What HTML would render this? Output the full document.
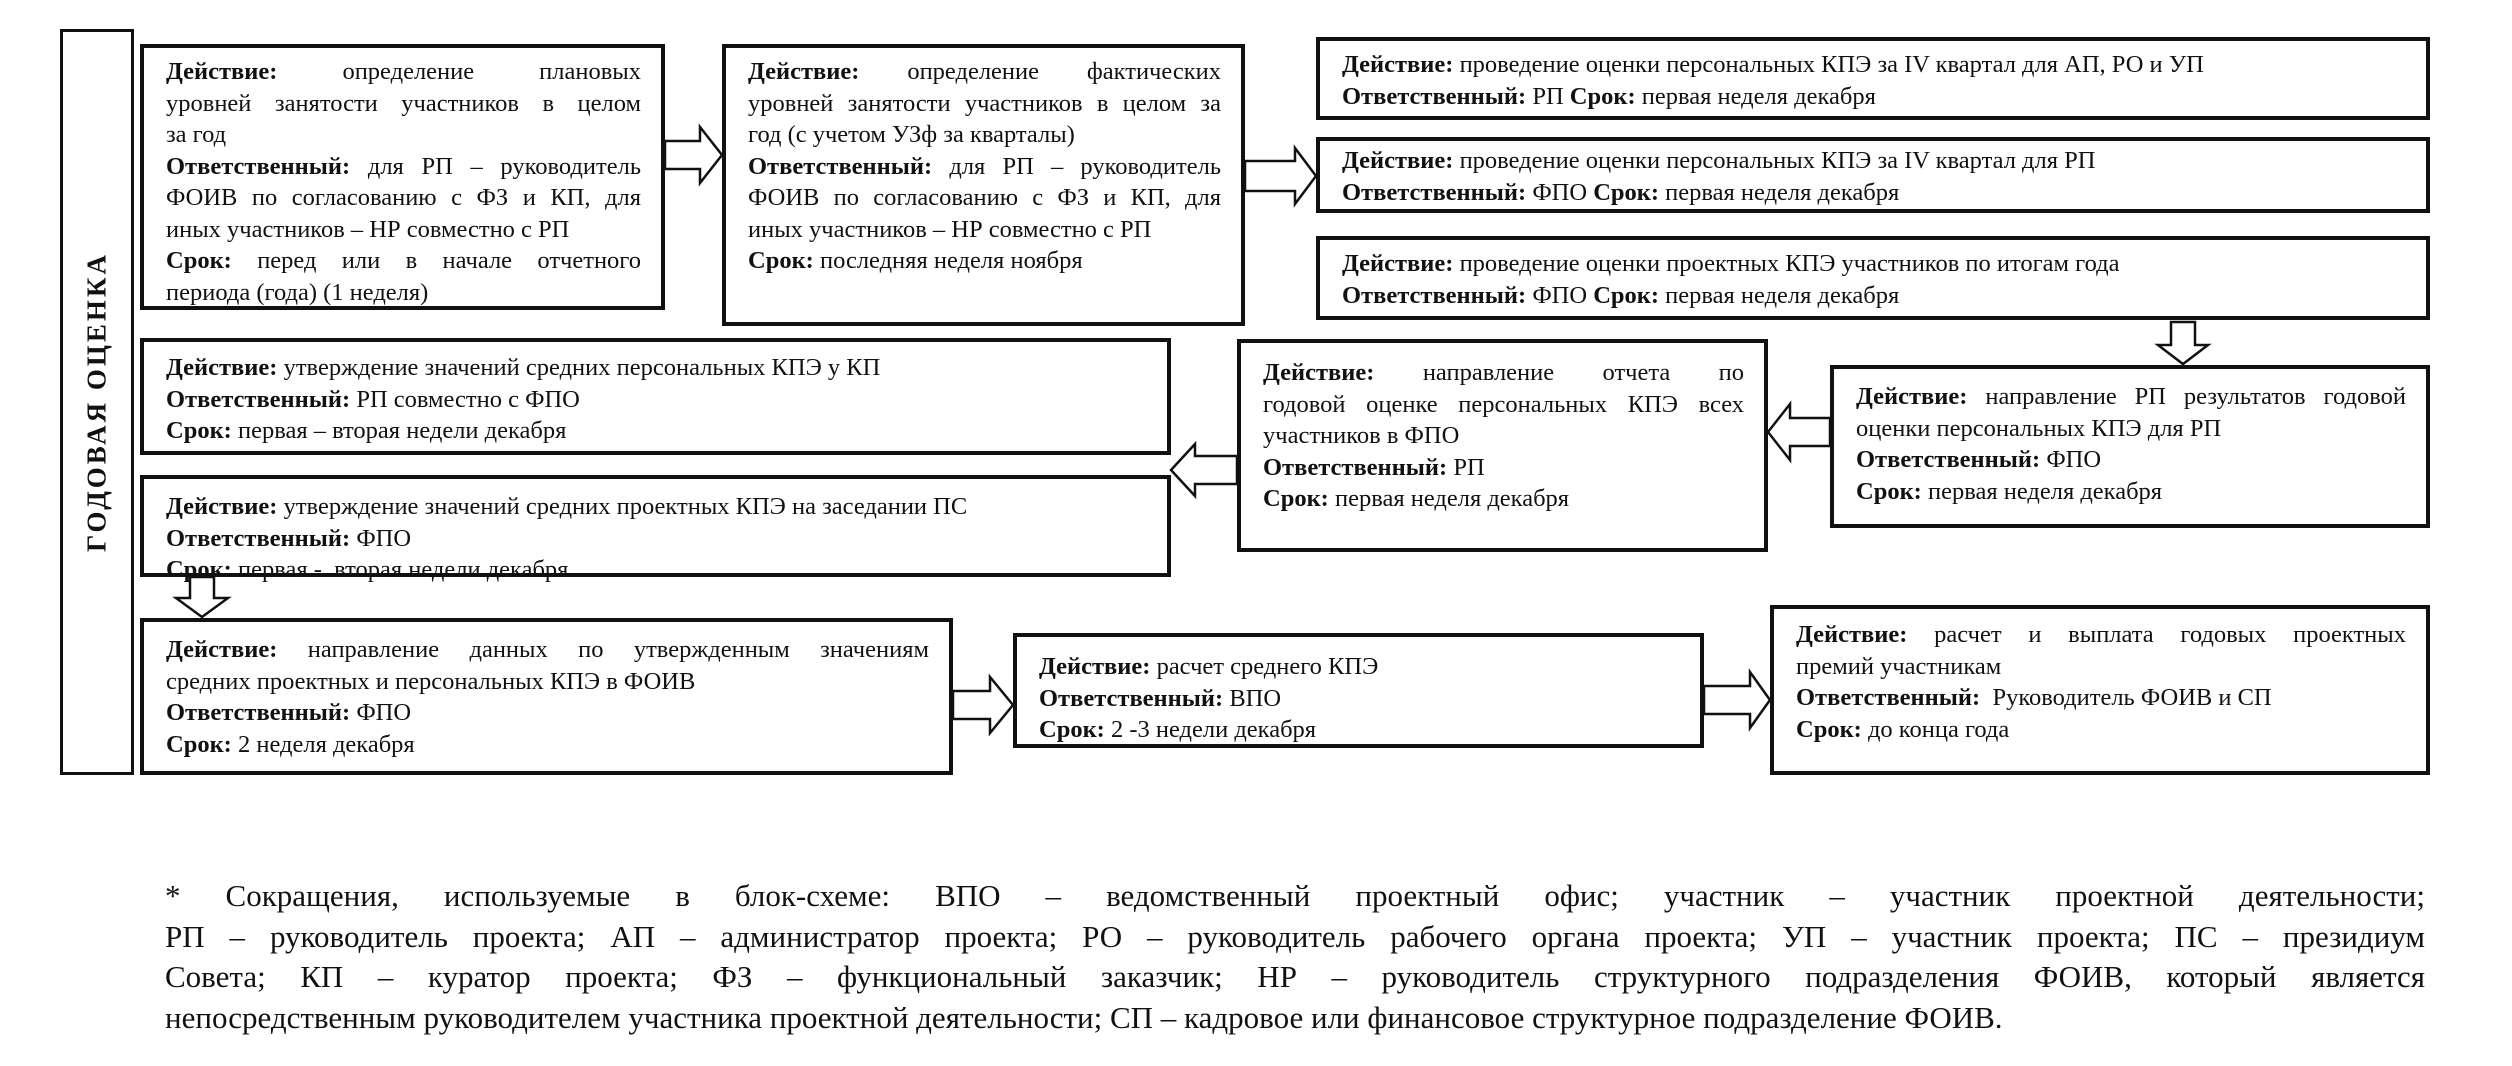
<!DOCTYPE html>
<html><head><meta charset="utf-8">
<style>
*{margin:0;padding:0;box-sizing:border-box}
body{width:2512px;height:1066px;background:#fff;position:relative;overflow:hidden;font-family:"Liberation Serif","Noto Serif CJK SC",serif;color:#111}
.b{position:absolute;border:4px solid #111;font-size:24.5px;line-height:31.5px;padding:8px 20px 0 22px}
.b b{font-weight:bold}
.j div{text-align:justify;text-align-last:justify;white-space:nowrap}
.j div.n{text-align-last:left}
.side{position:absolute;left:60px;top:29px;width:74px;height:746px;border:3px solid #111}
.side span{position:absolute;left:50%;top:50%;transform:translate(-50%,-50%) rotate(-90deg);font-weight:bold;font-size:27px;letter-spacing:3px;white-space:nowrap;font-family:"Liberation Serif",serif}
.fn{position:absolute;left:165px;top:876px;width:2260px;font-size:31px;line-height:40.5px}
.fn div{text-align:justify;text-align-last:justify;white-space:nowrap}
.fn div.n{text-align-last:left}
svg{position:absolute;left:0;top:0}
</style></head><body>
<div class="side"><span>ГОДОВАЯ ОЦЕНКА</span></div>

<div class="b j" style="left:140px;top:44px;width:525px;height:266px">
<div><b>Действие:</b> определение плановых</div>
<div>уровней занятости участников в целом</div>
<div class="n">за год</div>
<div><b>Ответственный:</b> для РП – руководитель</div>
<div>ФОИВ по согласованию с ФЗ и КП, для</div>
<div class="n">иных участников – НР совместно с РП</div>
<div><b>Срок:</b> перед или в начале отчетного</div>
<div class="n">периода (года) (1 неделя)</div>
</div>

<div class="b j" style="left:722px;top:44px;width:523px;height:282px">
<div><b>Действие:</b> определение фактических</div>
<div>уровней занятости участников в целом за</div>
<div class="n">год (с учетом УЗф за кварталы)</div>
<div><b>Ответственный:</b> для РП – руководитель</div>
<div>ФОИВ по согласованию с ФЗ и КП, для</div>
<div class="n">иных участников – НР совместно с РП</div>
<div class="n"><b>Срок:</b> последняя неделя ноября</div>
</div>

<div class="b" style="left:1316px;top:37px;width:1114px;height:83px;padding-top:8px">
<div><b>Действие:</b> проведение оценки персональных КПЭ за IV квартал для АП, РО и УП</div>
<div><b>Ответственный:</b> РП <b>Срок:</b> первая неделя декабря</div>
</div>
<div class="b" style="left:1316px;top:137px;width:1114px;height:76px;padding-top:4px">
<div><b>Действие:</b> проведение оценки персональных КПЭ за IV квартал для РП</div>
<div><b>Ответственный:</b> ФПО <b>Срок:</b> первая неделя декабря</div>
</div>
<div class="b" style="left:1316px;top:236px;width:1114px;height:84px;padding-top:8px">
<div><b>Действие:</b> проведение оценки проектных КПЭ участников по итогам года</div>
<div><b>Ответственный:</b> ФПО <b>Срок:</b> первая неделя декабря</div>
</div>

<div class="b j" style="left:1830px;top:365px;width:600px;height:163px;padding-top:12px">
<div><b>Действие:</b> направление РП результатов годовой</div>
<div class="n">оценки персональных КПЭ для РП</div>
<div class="n"><b>Ответственный:</b> ФПО</div>
<div class="n"><b>Срок:</b> первая неделя декабря</div>
</div>

<div class="b j" style="left:1237px;top:339px;width:531px;height:213px;padding-top:14px">
<div><b>Действие:</b> направление отчета по</div>
<div>годовой оценке персональных КПЭ всех</div>
<div class="n">участников в ФПО</div>
<div class="n"><b>Ответственный:</b> РП</div>
<div class="n"><b>Срок:</b> первая неделя декабря</div>
</div>

<div class="b" style="left:140px;top:338px;width:1031px;height:117px;padding-top:10px">
<div><b>Действие:</b> утверждение значений средних персональных КПЭ у КП</div>
<div><b>Ответственный:</b> РП совместно с ФПО</div>
<div><b>Срок:</b> первая – вторая недели декабря</div>
</div>
<div class="b" style="left:140px;top:475px;width:1031px;height:102px;padding-top:12px">
<div><b>Действие:</b> утверждение значений средних проектных КПЭ на заседании ПС</div>
<div><b>Ответственный:</b> ФПО</div>
<div><b>Срок:</b> первая -&nbsp; вторая недели декабря</div>
</div>

<div class="b j" style="left:140px;top:618px;width:813px;height:157px;padding-top:12px">
<div><b>Действие:</b> направление данных по утвержденным значениям</div>
<div class="n">средних проектных и персональных КПЭ в ФОИВ</div>
<div class="n"><b>Ответственный:</b> ФПО</div>
<div class="n"><b>Срок:</b> 2 неделя декабря</div>
</div>

<div class="b" style="left:1013px;top:633px;width:691px;height:115px;padding-top:14px">
<div><b>Действие:</b> расчет среднего КПЭ</div>
<div><b>Ответственный:</b> ВПО</div>
<div><b>Срок:</b> 2 -3 недели декабря</div>
</div>

<div class="b j" style="left:1770px;top:605px;width:660px;height:170px;padding-top:10px">
<div><b>Действие:</b> расчет и выплата годовых проектных</div>
<div class="n">премий участникам</div>
<div class="n"><b>Ответственный:</b>&nbsp; Руководитель ФОИВ и СП</div>
<div class="n"><b>Срок:</b> до конца года</div>
</div>

<svg width="2512" height="1066" fill="#fff" stroke="#111" stroke-width="2.5">
<polygon points="665,141 700,141 700,127 722,155 700,183 700,169 665,169"/>
<polygon points="1245,161 1295,161 1295,148 1316,176 1295,204 1295,191 1245,191"/>
<polygon points="2171,322 2195,322 2195,345 2208,345 2183,364 2158,345 2171,345"/>
<polygon points="1830,418 1790,418 1790,404 1768,432 1790,460 1790,446 1830,446"/>
<polygon points="1237,456 1195,456 1195,444 1171,470 1195,496 1195,484 1237,484"/>
<polygon points="190,577 214,577 214,598 228,598 202,617 176,598 190,598"/>
<polygon points="953,691 990,691 990,677 1013,705 990,733 990,719 953,719"/>
<polygon points="1704,686 1750,686 1750,672 1770,700 1750,728 1750,714 1704,714"/>
</svg>

<div class="fn">
<div>* Сокращения, используемые в блок-схеме: ВПО – ведомственный проектный офис; участник – участник проектной деятельности;</div>
<div>РП – руководитель проекта; АП – администратор проекта; РО – руководитель рабочего органа проекта; УП – участник проекта; ПС – президиум</div>
<div>Совета; КП – куратор проекта; ФЗ – функциональный заказчик; НР – руководитель структурного подразделения ФОИВ, который является</div>
<div class="n">непосредственным руководителем участника проектной деятельности; СП – кадровое или финансовое структурное подразделение ФОИВ.</div>
</div>
</body></html>
